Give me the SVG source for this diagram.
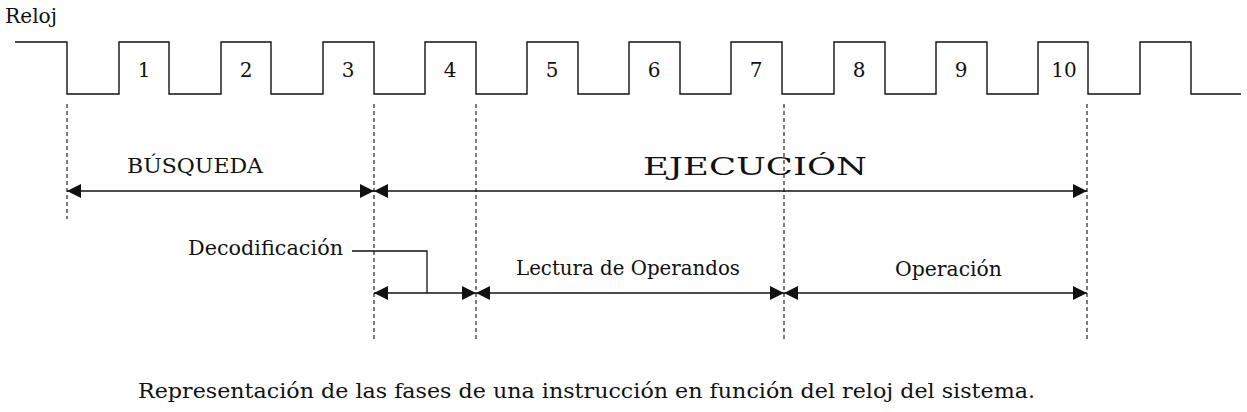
<svg xmlns="http://www.w3.org/2000/svg" width="1247" height="412" viewBox="0 0 1247 412">
<style>
  text { font-family: 'DejaVu Serif', 'Liberation Serif', serif; fill: #111; }
  .wave { fill: none; stroke: #111; stroke-width: 1.4; }
  .dash { fill: none; stroke: #111; stroke-width: 1.1; stroke-dasharray: 4 3; }
  .arr { fill: none; stroke: #111; stroke-width: 1.4; marker-start: url(#ah); marker-end: url(#ah); }
  .lead { fill: none; stroke: #111; stroke-width: 1.3; }
</style>
<defs>
  <marker id="ah" markerUnits="userSpaceOnUse" markerWidth="14" markerHeight="14" viewBox="0 0 14 14" refX="14" refY="7" orient="auto-start-reverse">
    <path d="M0,0 L14,7 L0,14 Z" fill="#111"/>
  </marker>
</defs>
<rect width="1247" height="412" fill="#fff"/>
<g id="clock">
  <text x="5" y="23" font-size="21" textLength="52" lengthAdjust="spacingAndGlyphs">Reloj</text>
  <path class="wave" d="M15,42 H67 V94 H119 V42 H169 V94 H221 V42 H271 V94 H323 V42 H374 V94 H425 V42 H476 V94 H527 V42 H578 V94 H629 V42 H680 V94 H731 V42 H782 V94 H834 V42 H885 V94 H936 V42 H987 V94 H1038 V42 H1088 V94 H1140 V42 H1191 V94 H1241"/>
  <g font-size="20" text-anchor="middle">
    <text x="144" y="77">1</text>
    <text x="246" y="77">2</text>
    <text x="348" y="77">3</text>
    <text x="450" y="77">4</text>
    <text x="552" y="77">5</text>
    <text x="654" y="77">6</text>
    <text x="756" y="77">7</text>
    <text x="859" y="77">8</text>
    <text x="961" y="77">9</text>
    <text x="1064" y="77">10</text>
  </g>
</g>
<g id="guides">
  <line class="dash" x1="67" y1="104" x2="67" y2="219"/>
  <line class="dash" x1="374" y1="104" x2="374" y2="340"/>
  <line class="dash" x1="476" y1="104" x2="476" y2="340"/>
  <line class="dash" x1="784" y1="104" x2="784" y2="340"/>
  <line class="dash" x1="1087" y1="104" x2="1087" y2="340"/>
</g>
<g id="connectors">
  <line class="arr" x1="67" y1="191" x2="374" y2="191"/>
  <line class="arr" x1="374" y1="191" x2="1087" y2="191"/>
  <line class="arr" x1="374" y1="293" x2="476" y2="293"/>
  <line class="arr" x1="476" y1="293" x2="784" y2="293"/>
  <line class="arr" x1="784" y1="293" x2="1087" y2="293"/>
  <path class="lead" d="M352,251 H427 V293"/>
</g>
<g id="busqueda">
  <text x="127" y="173" font-size="21" textLength="136" lengthAdjust="spacingAndGlyphs">BÚSQUEDA</text>
</g>
<g id="ejecucion">
  <text x="643" y="175" font-size="24" textLength="224" lengthAdjust="spacingAndGlyphs">EJECUCIÓN</text>
</g>
<g id="decodificacion">
  <text x="188" y="255" font-size="20" textLength="155" lengthAdjust="spacingAndGlyphs">Decodificación</text>
</g>
<g id="lectura">
  <text x="516" y="275" font-size="21" textLength="224" lengthAdjust="spacingAndGlyphs">Lectura de Operandos</text>
</g>
<g id="operacion">
  <text x="895" y="276" font-size="21" textLength="107" lengthAdjust="spacingAndGlyphs">Operación</text>
</g>
<g id="caption">
  <text x="138" y="398" font-size="21" textLength="897" lengthAdjust="spacingAndGlyphs">Representación de las fases de una instrucción en función del reloj del sistema.</text>
</g>
</svg>
